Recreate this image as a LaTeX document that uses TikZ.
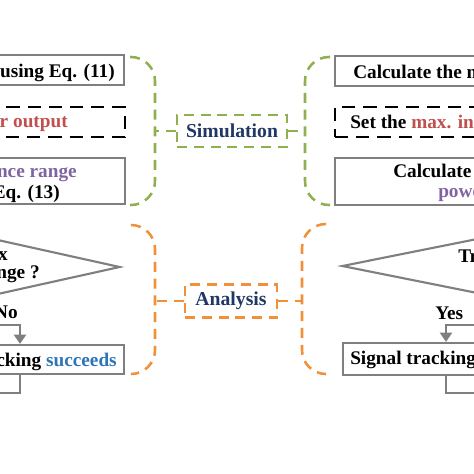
\documentclass[tikz,border=0pt]{standalone}
\usepackage{fontspec}
\setmainfont{Liberation Serif}
\usetikzlibrary{arrows.meta,shapes.geometric}
\definecolor{simgreen}{HTML}{8FB04F}
\definecolor{anaorange}{HTML}{F0913A}
\definecolor{boxgray}{HTML}{7F7F7F}
\definecolor{navy}{HTML}{1F3864}
\definecolor{eqred}{HTML}{C0504D}
\definecolor{eqpurple}{HTML}{8064A2}
\definecolor{okblue}{HTML}{2E75B6}

\begin{document}
\begin{tikzpicture}[
		x=0.025cm, y=-0.025cm,
		every node/.style={font=\fontsize{13.7}{15}\selectfont\bfseries},
		graybox/.style={draw=boxgray, line width=1.6pt, inner sep=0pt},
		dashbox/.style={draw=black, line width=1.8pt, dash pattern=on 0.33cm off 0.2cm, inner sep=0pt},
		decision/.style={draw=boxgray, line width=1.5pt, diamond, inner sep=0pt},
		txt/.style={inner sep=0pt},
		flow/.style={draw=boxgray, line width=1.5pt},
		flowarrow/.style={flow, -{Triangle[width=8.5pt,length=6.5pt]}},
		grdash/.style={draw=simgreen, line width=1.8pt, dash pattern=on 0.25cm off 0.17cm},
		ordash/.style={draw=anaorange, line width=1.8pt, dash pattern=on 0.25cm off 0.17cm},
		tagbox/.style={inner sep=0pt, text=navy, font=\fontsize{14}{16}\selectfont\bfseries},
	]
	\useasboundingbox (0,0) rectangle (474,474);
	\clip (0,0) rectangle (474,474);

	% left column
	\node[graybox, minimum width=5.6cm, minimum height=0.75cm] (calcL) at (12,70) {};
	\node[dashbox, minimum width=5.625cm, minimum height=0.75cm] (setL) at (12.5,122) {};
	\node[graybox, minimum width=5.625cm, minimum height=1.15cm] (rangeL) at (12.5,181) {};
	\node[decision, minimum width=8.5cm, minimum height=1.9cm] (askL) at (-50,267) {};
	\node[graybox, minimum width=5.6cm, minimum height=0.725cm] (trackL) at (12,359.5) {};

	\node[txt, anchor=base east] (calcLt) at (115,77) {w using Eq. (11)};
	\node[txt, anchor=base east, text=eqred] (setLt) at (68,127) {er output};
	\node[txt, anchor=base east, text=eqpurple] (rangeLa) at (77,177) {nce range};
	\node[txt, anchor=base east] (rangeLb) at (60,198) {Eq. (13)};
	\node[txt, anchor=base east] (askLa) at (8,260) {x};
	\node[txt, anchor=base east] (askLb) at (40,278) {nge ?};
	\node[txt, anchor=base east] (noL) at (18,318) {No};
	\node[txt, anchor=base east] (trackLt) at (117,366) {acking \textcolor{okblue}{succeeds}};

	\coordinate (noFrom) at (-10,325);
	\coordinate (noDrop) at (20,325);
	\coordinate (outL) at (-10,393);
	\draw[flowarrow] (noFrom) -- (noDrop) -- (noDrop |- trackL.north);
	\draw[flow] (trackL.south -| noDrop) |- (outL);

	% right column
	\node[graybox, minimum width=5.975cm, minimum height=0.75cm] (calcR) at (454.5,71) {};
	\node[dashbox, minimum width=5.975cm, minimum height=0.75cm] (setR) at (454.5,122) {};
	\node[graybox, minimum width=5.975cm, minimum height=1.175cm] (powR) at (454.5,181.5) {};
	\node[decision, minimum width=9.4cm, minimum height=1.9cm] (askR) at (530,266) {};
	\node[graybox, minimum width=5.775cm, minimum height=0.8cm] (trackR) at (458.5,359) {};

	\node[txt, anchor=base west] (calcRt) at (353,78) {Calculate the m};
	\node[txt, anchor=base west] (setRt) at (350,128) {Set the \textcolor{eqred}{max. inte}};
	\node[txt, anchor=base west] (powRa) at (393,177) {Calculate t};
	\node[txt, anchor=base west, text=eqpurple] (powRb) at (438,197) {powe};
	\node[txt, anchor=base west] (askRt) at (458,262) {Tr};
	\node[txt, anchor=base west] (yesR) at (435,319) {Yes};
	\node[txt, anchor=base west] (trackRt) at (350,364) {Signal tracking \textcolor{okblue}{s}};

	\coordinate (yesFrom) at (490,325);
	\coordinate (yesDrop) at (446,325);
	\coordinate (outR) at (490,393);
	\draw[flowarrow] (yesFrom) -- (yesDrop) -- (yesDrop |- trackR.north);
	\draw[flow] (trackR.south -| yesDrop) |- (outR);

	% braces
	\node[grdash, tagbox, minimum width=2.75cm, minimum height=0.8cm] (sim) at (232,131) {Simulation};
	\node[ordash, tagbox, minimum width=2.3cm, minimum height=0.825cm] (ana) at (231,301) {Analysis};

	\draw[grdash, rounded corners=0.6cm] (130,57) -- (155,57) -- (155,205) -- (130,205);
	\draw[grdash, rounded corners=0.6cm] (330,57) -- (305,57) -- (305,205) -- (330,205);
	\draw[ordash, rounded corners=0.6cm] (131,225) -- (155,225) -- (155,374) -- (131,374);
	\draw[ordash, rounded corners=0.6cm] (326,224) -- (302,224) -- (302,374) -- (326,374);

	\coordinate (simL) at (155,131);
	\coordinate (simR) at (305,131);
	\coordinate (anaL) at (155,301);
	\coordinate (anaR) at (302,301);
	\draw[grdash] (sim.west) -- (simL);
	\draw[grdash] (sim.east) -- (simR);
	\draw[ordash] (ana.west) -- (anaL);
	\draw[ordash] (ana.east) -- (anaR);
\end{tikzpicture}
\end{document}
